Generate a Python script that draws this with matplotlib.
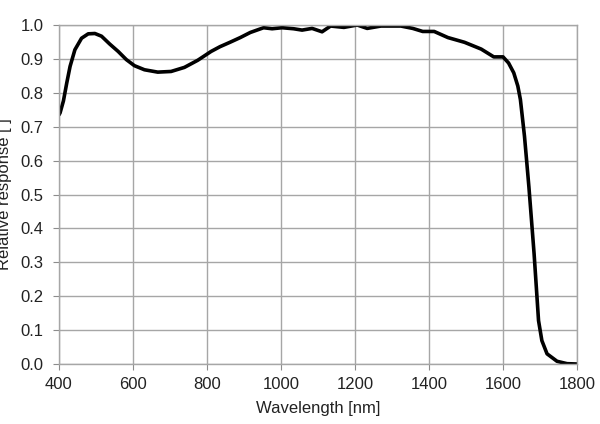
import matplotlib
matplotlib.use('Agg')
from matplotlib import pyplot as plt

plt.rcParams['font.family'] = ['Liberation Sans', 'DejaVu Sans']

# spectral response
wavelength = [400, 403, 412, 421, 430, 443, 461, 479, 497, 515, 537, 560, 582, 604,
              631, 667, 703, 739, 775, 811, 835, 862, 890, 917, 953, 976, 1003,
              1034, 1057, 1084, 1111, 1134, 1170, 1206, 1233, 1270, 1324, 1356,
              1383, 1414, 1451, 1496, 1541, 1575, 1600, 1615, 1629, 1640, 1647,
              1652, 1658, 1663, 1670, 1677, 1684, 1690, 1696, 1705, 1719, 1746,
              1773, 1800]
response = [0.735, 0.741, 0.776, 0.829, 0.878, 0.927, 0.961, 0.974, 0.975, 0.967,
            0.944, 0.922, 0.898, 0.880, 0.868, 0.861, 0.863, 0.875, 0.896, 0.922,
            0.936, 0.949, 0.963, 0.978, 0.992, 0.989, 0.992, 0.989, 0.985, 0.990,
            0.980, 0.997, 0.993, 1.000, 0.990, 0.997, 0.997, 0.990, 0.981, 0.981,
            0.963, 0.949, 0.929, 0.906, 0.906, 0.888, 0.859, 0.820, 0.780, 0.731,
            0.672, 0.610, 0.522, 0.424, 0.325, 0.227, 0.128, 0.069, 0.030, 0.008,
            0.001, 0.0]

x_ticks = [400, 600, 800, 1000, 1200, 1400, 1600, 1800]
y_ticks = [0.0, 0.1, 0.2, 0.3, 0.4, 0.5, 0.6, 0.7, 0.8, 0.9, 1.0]

fig = plt.figure(figsize=(6, 4.24), dpi=100)
ax = fig.add_axes([0.0983, 0.1415, 0.8634, 0.7995])

ax.plot(wavelength, response, color='black', linewidth=2.6,
        solid_joinstyle='round', solid_capstyle='round')

ax.set_xlim(400, 1800)
ax.set_ylim(0, 1.0)
ax.set_xticks(x_ticks)
ax.set_yticks(y_ticks)
ax.set_yticklabels([f'{v:.1f}' for v in y_ticks])
ax.grid(True, color='#a6a6a6', linewidth=1)
ax.set_axisbelow(True)
for s in ax.spines.values():
    s.set_color('#a6a6a6')
    s.set_linewidth(1)
ax.tick_params(axis='both', colors='#8c8c8c', length=4, labelsize=12,
               labelcolor='#222222')
ax.tick_params(axis='x', pad=5)
ax.tick_params(axis='y', pad=7)

ax.set_xlabel('Wavelength [nm]', fontsize=12, color='#222222', labelpad=7)
ax.set_ylabel('Relative response [ ]', fontsize=12, color='#222222')
ax.yaxis.set_label_coords(-0.09, 0.5)

plt.savefig('out.png', dpi=100)
